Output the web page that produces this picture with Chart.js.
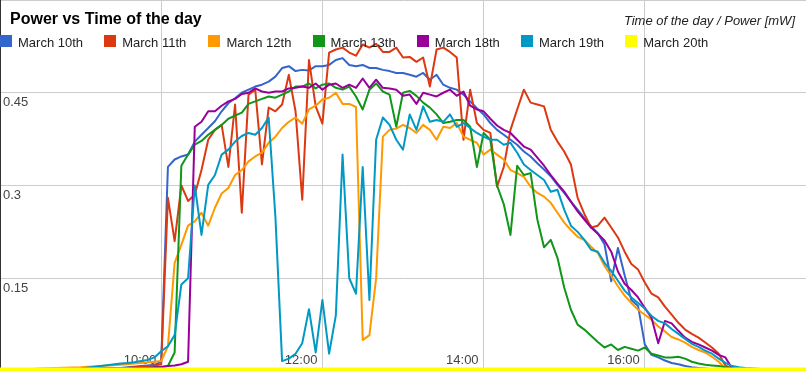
<!DOCTYPE html>
<html><head><meta charset="utf-8">
<script src="https://cdn.jsdelivr.net/npm/chart.js@4"></script>
<style>
html,body{margin:0;padding:0;background:#fff;overflow:hidden}
#wrap{position:relative;width:806px;height:371px}
#c{position:absolute;left:0;top:0}
.t{position:absolute;font-family:'Liberation Sans',Arial,sans-serif;white-space:nowrap}
#title{left:10px;top:11px;font-size:16px;line-height:16px;font-weight:bold;color:#000}
#axtitle{right:11px;top:14px;font-size:13px;line-height:13px;font-style:italic;color:#222}
.lg{position:absolute;top:35px;height:13px}
.sw{position:absolute;left:0;top:0;width:12px;height:12px}
.lt{position:absolute;left:18px;top:0.5px;font-size:13px;line-height:13px;color:#222;font-family:'Liberation Sans',Arial,sans-serif;white-space:nowrap}
</style></head><body>
<div id="wrap"><canvas id="c" width="806" height="371"></canvas>
<div class="t" id="title">Power vs Time of the day</div>
<div class="t" id="axtitle">Time of the day / Power [mW]</div>
<div id="legend"></div></div>
<script>
// time of day in minutes since midnight
const times = [480,510,540,555,
570,575,580,585,590,595,
600,605,610,615,620,625,630,635,640,645,650,655,
660,665,670,675,680,685,690,695,700,705,710,715,
720,725,730,735,740,745,750,755,760,765,770,775,
780,785,790,795,800,805,810,815,820,825,830,835,
840,845,850,855,860,865,870,875,880,885,890,895,
900,905,910,915,920,925,930,935,940,945,950,955,
960,965,970,975,980,985,990,995,1000,1005,1010,1015,
1020,1025,1030,1035,
1050,1065,1080];

const march10 = [0,0.002,0.003,0.004,
0.005,0.006,0.007,0.008,0.009,0.010,
0.015,0.330,0.342,0.347,0.350,0.371,0.382,0.393,0.404,0.420,0.433,0.441,
0.450,0.455,0.460,0.463,0.468,0.476,0.490,0.493,0.485,0.487,0.486,0.493,
0.493,0.495,0.503,0.506,0.495,0.493,0.495,0.490,0.490,0.487,0.485,0.482,
0.482,0.479,0.476,0.482,0.471,0.479,0.463,0.458,0.455,0.447,0.436,0.425,
0.415,0.401,0.390,0.382,0.374,0.366,0.355,0.347,0.336,0.326,0.315,0.301,
0.288,0.274,0.261,0.247,0.234,0.223,0.205,0.145,0.199,0.155,0.115,0.105,
0.043,0.026,0.022,0.017,0.013,0.011,0.008,0.006,0.005,0.004,0.003,0.003,
0.002,0.002,0.001,0.001,
0.001,0,0];

const march11 = [0,0.001,0.002,0.003,
0.004,0.005,0.006,0.007,0.008,0.009,
0.011,0.280,0.210,0.300,0.275,0.285,0.325,0.374,0.390,0.398,0.330,0.431,
0.256,0.447,0.455,0.334,0.426,0.420,0.431,0.479,0.420,0.277,0.503,0.428,
0.400,0.515,0.520,0.523,0.515,0.510,0.528,0.523,0.529,0.516,0.516,0.523,
0.507,0.508,0.500,0.507,0.460,0.520,0.523,0.516,0.507,0.374,0.455,0.401,
0.390,0.385,0.298,0.330,0.390,0.423,0.455,0.434,0.431,0.428,0.390,0.371,
0.355,0.334,0.280,0.254,0.232,0.235,0.248,0.232,0.216,0.193,0.173,0.164,
0.143,0.125,0.119,0.104,0.091,0.078,0.067,0.060,0.054,0.046,0.038,0.028,
0.009,0.003,0.002,0.001,
0.001,0,0];

const march12 = [0,0.004,0.006,0.008,
0.010,0.011,0.012,0.013,0.014,0.015,
0.016,0.040,0.175,0.204,0.235,0.242,0.256,0.235,0.264,0.287,0.296,0.317,
0.325,0.339,0.347,0.353,0.369,0.379,0.393,0.403,0.410,0.400,0.423,0.429,
0.439,0.442,0.450,0.432,0.432,0.427,0.050,0.058,0.150,0.379,0.390,0.392,
0.398,0.393,0.385,0.398,0.390,0.374,0.395,0.393,0.401,0.379,0.374,0.369,
0.350,0.358,0.350,0.342,0.325,0.320,0.314,0.298,0.288,0.282,0.272,0.256,
0.240,0.228,0.217,0.212,0.201,0.191,0.170,0.154,0.137,0.122,0.110,0.099,
0.091,0.083,0.072,0.064,0.055,0.051,0.046,0.039,0.034,0.030,0.023,0.015,
0.004,0.002,0.001,0.001,
0,0,0];

const march13 = [0,0.001,0.002,0.003,
0.003,0.004,0.004,0.005,0.005,0.006,
0.007,0.008,0.030,0.332,0.350,0.366,0.372,0.382,0.390,0.398,0.408,0.413,
0.418,0.432,0.436,0.440,0.444,0.442,0.447,0.452,0.460,0.460,0.465,0.457,
0.463,0.465,0.458,0.455,0.460,0.444,0.423,0.455,0.465,0.452,0.447,0.395,
0.450,0.453,0.445,0.434,0.426,0.415,0.401,0.403,0.406,0.406,0.395,0.330,
0.385,0.374,0.300,0.270,0.220,0.332,0.317,0.320,0.245,0.200,0.212,0.183,
0.135,0.099,0.075,0.067,0.057,0.047,0.038,0.043,0.034,0.039,0.036,0.033,
0.038,0.028,0.025,0.022,0.022,0.023,0.020,0.015,0.012,0.010,0.009,0.008,
0.006,0.005,0.004,0.003,
0.002,0.001,0];

const march18 = [0,0.001,0.003,0.004,
0.004,0.004,0.005,0.005,0.005,0.006,
0.006,0.008,0.009,0.011,0.015,0.395,0.403,0.420,0.420,0.429,0.436,0.440,
0.448,0.450,0.457,0.452,0.450,0.452,0.452,0.457,0.458,0.460,0.458,0.465,
0.455,0.463,0.465,0.458,0.463,0.458,0.473,0.458,0.471,0.458,0.457,0.455,
0.445,0.447,0.432,0.450,0.447,0.444,0.450,0.455,0.445,0.452,0.429,0.423,
0.420,0.408,0.397,0.390,0.385,0.374,0.363,0.358,0.345,0.332,0.317,0.303,
0.290,0.274,0.258,0.245,0.232,0.222,0.211,0.193,0.161,0.141,0.131,0.119,
0.102,0.086,0.045,0.081,0.077,0.065,0.054,0.047,0.043,0.038,0.033,0.026,
0.022,0.004,0.002,0.001,
0,0,0];

const march19 = [0,0.002,0.004,0.008,
0.012,0.013,0.014,0.016,0.018,0.022,
0.032,0.040,0.058,0.140,0.150,0.300,0.220,0.301,0.317,0.350,0.358,0.371,
0.380,0.385,0.382,0.393,0.410,0.250,0.016,0.020,0.028,0.045,0.100,0.030,
0.115,0.028,0.090,0.350,0.150,0.125,0.330,0.115,0.374,0.410,0.398,0.374,
0.358,0.415,0.390,0.428,0.403,0.406,0.403,0.415,0.395,0.401,0.393,0.385,
0.379,0.374,0.374,0.366,0.369,0.353,0.334,0.325,0.317,0.309,0.290,0.293,
0.261,0.235,0.225,0.212,0.196,0.193,0.175,0.162,0.146,0.130,0.119,0.110,
0.101,0.089,0.081,0.077,0.068,0.060,0.052,0.044,0.039,0.033,0.028,0.020,
0.013,0.008,0.006,0.005,
0.003,0.002,0.001];

const march20 = [0,0,0,0,
0,0,0,0,0,0,
0,0,0,0,0,0,0,0,0,0,0,0,
0,0,0,0,0,0,0,0,0,0,0,0,
0,0,0,0,0,0,0,0,0,0,0,0,
0,0,0,0,0,0,0,0,0,0,0,0,
0,0,0,0,0,0,0,0,0,0,0,0,
0,0,0,0,0,0,0,0,0,0,0,0,
0,0,0,0,0,0,0,0,0,0,0,0,
0,0,0,0,
0,0,0];

const seriesNames = ['March 10th','March 11th','March 12th','March 13th','March 18th','March 19th','March 20th'];
const seriesValues = [march10, march11, march12, march13, march18, march19, march20];
const seriesColors = ['#3366cc','#dc3912','#ff9900','#109618','#990099','#0099c6','#ffff00'];

const xTickValues = [600, 720, 840, 960];
const xTickLabels = ['10:00','12:00','14:00','16:00'];
const yTickValues = [0.15, 0.3, 0.45];
const yTickLabels = ['0.15','0.3','0.45'];

// HTML legend
const lg = document.getElementById('legend');
seriesNames.forEach((n, i) => {
  const d = document.createElement('div');
  d.className = 'lg';
  d.style.left = (i * 104.2) + 'px';
  d.innerHTML = '<div class="sw" style="background:' + seriesColors[i] + '"></div><div class="lt">' + n + '</div>';
  lg.appendChild(d);
});

Chart.defaults.font.family = "'Liberation Sans', Arial, sans-serif";
Chart.defaults.font.size = 13;

new Chart(document.getElementById('c'), {
  type: 'line',
  data: {
    labels: times,
    datasets: seriesNames.map((n, i) => ({
      label: n,
      data: seriesValues[i],
      borderColor: seriesColors[i],
      backgroundColor: seriesColors[i],
      borderWidth: i === 6 ? 7 : 2,
      pointRadius: 0,
      tension: 0,
      fill: false,
      borderJoinStyle: 'round',
      order: seriesNames.length - i
    }))
  },
  options: {
    responsive: false,
    animation: false,
    events: [],
    layout: { padding: 0 },
    plugins: { legend: { display: false }, tooltip: { enabled: false }, title: { display: false } },
    scales: {
      x: {
        type: 'linear',
        min: 480, max: 1080,
        position: 'bottom',
        grid: { color: '#cccccc', lineWidth: 1, drawTicks: false },
        border: { display: false },
        ticks: {
          stepSize: 120,
          mirror: true,
          padding: 3,
          align: 'end',
          labelOffset: -5,
          maxRotation: 0,
          autoSkip: false,
          color: '#444',
          font: { size: 13 },
          callback: (v) => { const k = xTickValues.indexOf(v); return k >= 0 ? xTickLabels[k] : ''; }
        },
        afterFit: (s) => { s.height = 0; s.paddingLeft = 0; s.paddingRight = 0; s.paddingTop = 0; s.paddingBottom = 0; }
      },
      y: {
        type: 'linear',
        min: 0, max: 0.6,
        position: 'left',
        grid: { color: '#cccccc', lineWidth: 1, drawTicks: false },
        border: { display: true, color: '#333333', width: 2 },
        ticks: {
          stepSize: 0.15,
          mirror: true,
          padding: 3,
          labelOffset: 10,
          color: '#444',
          font: { size: 13 },
          callback: (v) => { const k = yTickValues.findIndex(t => Math.abs(t - v) < 1e-6); return k >= 0 ? yTickLabels[k] : ''; }
        },
        afterFit: (s) => { s.width = 0; s.paddingTop = 0; s.paddingBottom = 0; s.paddingLeft = 0; s.paddingRight = 0; }
      }
    }
  }
});
</script>
</body></html>
